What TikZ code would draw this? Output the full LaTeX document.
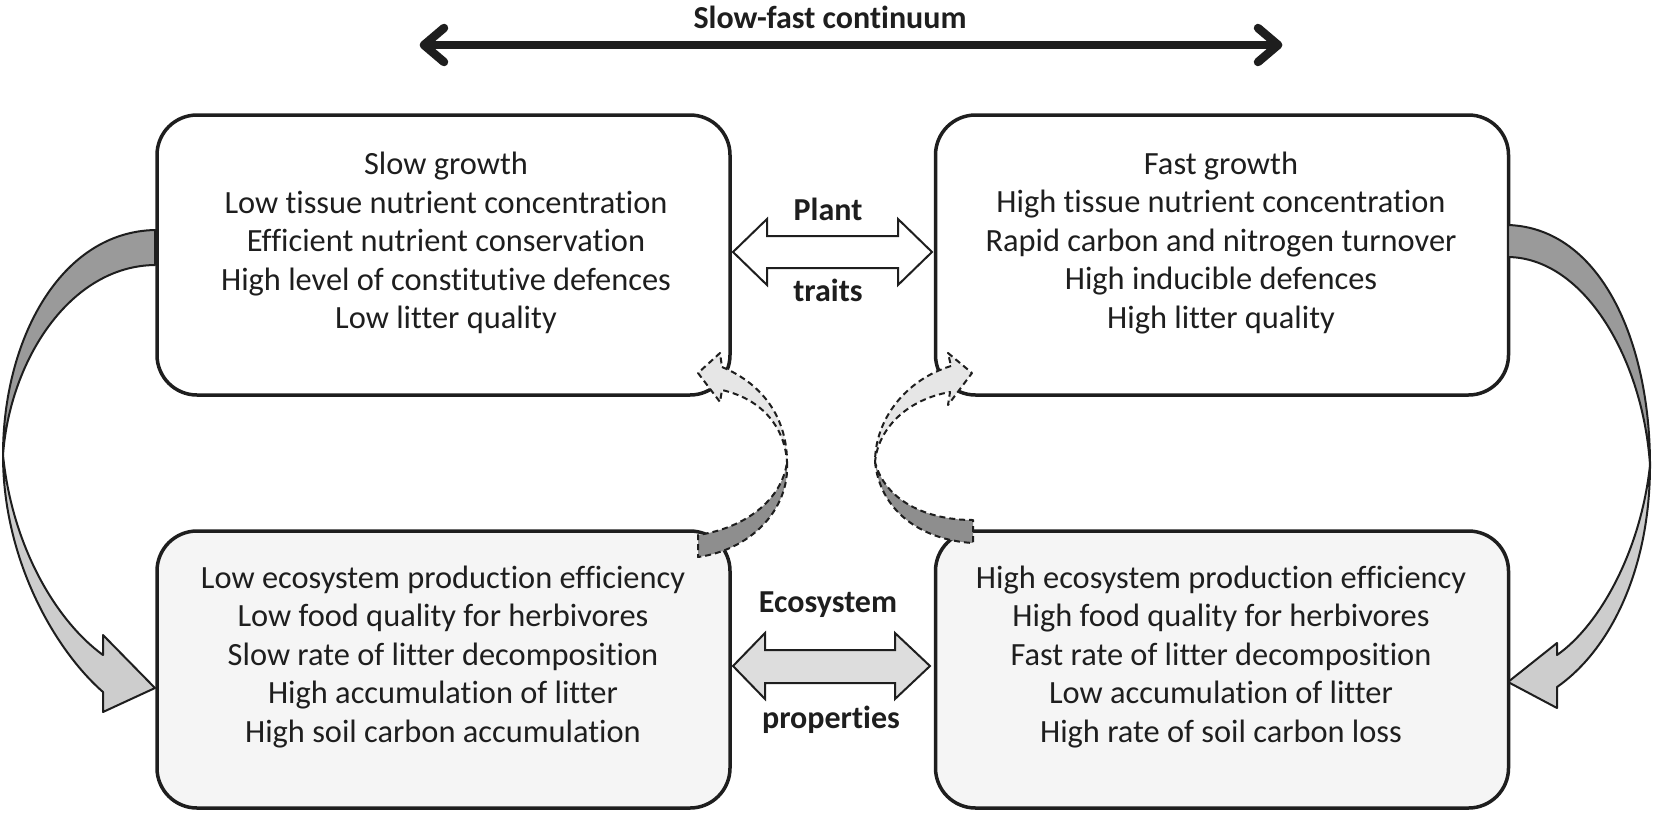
\documentclass[tikz,border=0pt]{standalone}
\usepackage{fontspec}
\setmainfont{Carlito}[Ligatures=NoCommon]
\usetikzlibrary{calc}
\definecolor{boxfill}{HTML}{F5F5F5}
\definecolor{bigdark}{HTML}{9A9A9A}
\definecolor{biglight}{HTML}{CDCDCD}
\definecolor{dashdark}{HTML}{8E8E8E}
\definecolor{dashlight}{HTML}{E6E6E6}
\definecolor{ecofill}{HTML}{DDDDDD}
\definecolor{ink}{HTML}{1E1E1E}
\begin{document}
\begin{tikzpicture}[x=0.5pt,y=-0.5pt,
  box/.style={draw=ink, line width=1.75pt, rounded corners=20pt, minimum width=286.5pt, minimum height=140pt, inner sep=0pt},
  bodytext/.style={font=\fontsize{16.2}{19.25}\selectfont, align=center, inner sep=0pt, text=ink},
  midlabel/.style={font=\fontsize{16}{18}\selectfont\bfseries, inner sep=0pt, text=ink},
  bigarrow/.style={draw=ink, line width=1pt, line join=round},
  dasharrow/.style={draw=ink, line width=1pt, dash pattern=on 3pt off 2pt, line join=round},
  hollow/.style={draw=ink, line width=1pt, line join=miter},
  scale arrow/.style={draw=ink, line width=4.25pt, line cap=round, line join=round}
]
\useasboundingbox (0,0) rectangle (1654,815);

% title
\node[midlabel] (title) at (830,17) {Slow-fast continuum};
\coordinate (slowend) at (424,45);
\coordinate (fastend) at (1278,45);
\draw[scale arrow] (slowend) -- (fastend);
\draw[scale arrow] ($(slowend)+(20,-17)$) -- (slowend) -- ($(slowend)+(20,17)$);
\draw[scale arrow] ($(fastend)+(-20,-17)$) -- (fastend) -- ($(fastend)+(-20,17)$);

% boxes
\node[box, fill=white] (tl) at (443.5,255) {};
\node[box, fill=white] (tr) at (1222,255) {};
\node[box, fill=boxfill, minimum height=138.5pt] (bl) at (443.5,669.5) {};
\node[box, fill=boxfill, minimum height=138.5pt] (br) at (1222,669.5) {};

\node[bodytext] (tlt) at (446,243) {Slow growth\\Low tissue nutrient concentration\\Efficient nutrient conservation\\High level of constitutive defences\\Low litter quality};
\node[bodytext] (trt) at (1221,243) {Fast growth\\High tissue nutrient concentration\\Rapid carbon and nitrogen turnover\\High inducible defences\\High litter quality};
\node[bodytext] (blt) at (443,657) {Low ecosystem production efficiency\\Low food quality for herbivores\\Slow rate of litter decomposition\\High accumulation of litter\\High soil carbon accumulation};
\node[bodytext] (brt) at (1221,657) {High ecosystem production efficiency\\High food quality for herbivores\\Fast rate of litter decomposition\\Low accumulation of litter\\High rate of soil carbon loss};

% plant traits arrow
\draw[hollow, fill=white] (733,252) -- (767,219) -- (767,236) -- (898,236) -- (898,219) -- (932,252) -- (898,285) -- (898,268) -- (767,268) -- (767,285) -- cycle;
\node[midlabel] (plant) at (828,209) {Plant};
\node[midlabel] (traits) at (828,290) {traits};

% ecosystem properties arrow
\draw[hollow, fill=ecofill] (733,666) -- (765,633) -- (765,650) -- (895,650) -- (895,633) -- (930,666) -- (895,699) -- (895,683) -- (765,683) -- (765,699) -- cycle;
\node[midlabel] (eco) at (828,605) {Ecosystem};
\node[midlabel] (prop) at (831,720) {properties};

% left big curved arrow
\filldraw[bigarrow, fill=bigdark] (155,230) .. controls (60,232) and (3,340) .. (3,455)
   .. controls (10,360) and (70,266) .. (155,265) -- cycle;
\filldraw[bigarrow, fill=biglight] (3,455) .. controls (3,560) and (55,650) .. (103,692)
   -- (103,712) -- (155,688) -- (103,635) -- (103,655)
   .. controls (55,620) and (12,545) .. (3,455) -- cycle;

% right big curved arrow
\filldraw[bigarrow, fill=bigdark] (1508,225) .. controls (1600,228) and (1650,340) .. (1650,465)
   .. controls (1643,360) and (1585,258) .. (1508,257) -- cycle;
\filldraw[bigarrow, fill=biglight] (1650,465) .. controls (1650,570) and (1610,650) .. (1557,687)
   -- (1557,708) -- (1508,682) -- (1557,643) -- (1557,655)
   .. controls (1600,625) and (1641,550) .. (1650,465) -- cycle;

% left dashed arrow
\filldraw[dasharrow, fill=dashdark] (787,462) .. controls (790,510) and (750,550) .. (698,557)
   -- (698,535) .. controls (745,528) and (782,500) .. (787,462) -- cycle;
\filldraw[dasharrow, fill=dashlight] (722,367) .. controls (765,385) and (787,420) .. (787,462)
   .. controls (785,430) and (765,400) .. (722,390) -- (720,402) -- (698,373) -- (720,353) -- cycle;

% right dashed arrow
\filldraw[dasharrow, fill=dashdark] (875,462) .. controls (880,510) and (920,540) .. (973,543)
   -- (973,520) .. controls (925,520) and (885,500) .. (875,462) -- cycle;
\filldraw[dasharrow, fill=dashlight] (951,366) .. controls (905,380) and (875,420) .. (875,462)
   .. controls (878,430) and (905,400) .. (950,392) -- (948,405) -- (972,373) -- (948,353) -- cycle;
\end{tikzpicture}
\end{document}
